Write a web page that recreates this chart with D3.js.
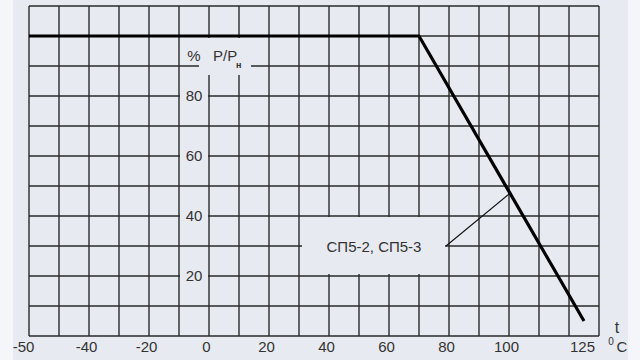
<!DOCTYPE html>
<html>
<head>
<meta charset="utf-8">
<script src="https://cdn.jsdelivr.net/npm/d3@7"></script>
<style>
  body { margin: 0; background: #f5f6f9; }
  svg { display: block; }
</style>
</head>
<body>
<svg width="640" height="360"></svg>
<script>
// data
var tempPoints = [-50, 70, 125];
var powerPoints = [100, 100, 5];
var xTickValues = [-50, -40, -20, 0, 20, 40, 60, 80, 100, 125];
var xGridValues = [-50, -45, -40, -30, -20, -10, 0, 10, 20, 30, 40, 50, 60, 70, 80, 90, 100, 110, 120, 130];
var yTickValues = [20, 40, 60, 80];
var yGridValues = [0, 10, 20, 30, 40, 50, 60, 70, 80, 90, 100, 110];
var seriesLabel = "СП5-2, СП5-3";

var bg = "#e8eaf2";
var svg = d3.select("svg");

// the panel
svg.append("rect")
  .attr("x", 13).attr("y", 0)
  .attr("width", 615).attr("height", 360)
  .attr("fill", bg);

// left end of the axis is squeezed in the drawing (-50 .. -40 takes two cells)
var x = d3.scaleLinear().domain([-50, -40, 130]).range([29, 89, 599]);
var y = d3.scaleLinear().domain([0, 110]).range([336, 6]);

var grid = svg.append("g")
  .attr("stroke", "#2a2a2a")
  .attr("stroke-width", 1.4);

grid.selectAll(".vline")
  .data(xGridValues)
  .enter().append("line")
  .attr("x1", function(d) { return x(d); })
  .attr("x2", function(d) { return x(d); })
  .attr("y1", y(110)).attr("y2", y(0));

grid.selectAll(".hline")
  .data(yGridValues)
  .enter().append("line")
  .attr("x1", x(-50)).attr("x2", x(130))
  .attr("y1", function(d) { return y(d); })
  .attr("y2", function(d) { return y(d); });

// boxes that blank out the grid behind the labels
var boxes = svg.append("g").attr("fill", bg);

boxes.selectAll(".ybox")
  .data(yTickValues)
  .enter().append("rect")
  .attr("x", x(-10) + 1).attr("width", 28)
  .attr("y", function(d) { return y(d) - 11; })
  .attr("height", 22);

// box of the axis title
boxes.append("rect")
  .attr("x", 199).attr("y", 38)
  .attr("width", 52).attr("height", 37);

// box of the series label
boxes.append("rect")
  .attr("x", 302).attr("y", 217)
  .attr("width", 143).attr("height", 57);

// the curve
var line = d3.line()
  .x(function(d) { return x(d[0]); })
  .y(function(d) { return y(d[1]); });

svg.append("path")
  .datum(d3.zip(tempPoints, powerPoints))
  .attr("d", line)
  .attr("fill", "none")
  .attr("stroke", "#000")
  .attr("stroke-width", 3.2);

// leader from label to curve
svg.append("line")
  .attr("x1", 446).attr("y1", 246)
  .attr("x2", x(100) + 2).attr("y2", y(100 - 30 * 95 / 55) + 1)
  .attr("stroke", "#111")
  .attr("stroke-width", 1.1);

// x axis labels
var xAxis = svg.append("g")
  .attr("transform", "translate(0," + 341 + ")")
  .call(d3.axisBottom(x).tickValues(xTickValues).tickSize(0).tickPadding(0)
    .tickFormat(function(d) { return String(d); }));
xAxis.select(".domain").remove();
xAxis.selectAll("text")
  .attr("font-family", "Liberation Sans, Arial, sans-serif")
  .attr("font-size", "15px")
  .attr("fill", "#333")
  .attr("dx", function(d) { return d === -50 ? "-6px" : d === 125 ? "-2px" : "-3px"; });

// y labels sit inside the grid, left of the 0 line
svg.selectAll(".ylab")
  .data(yTickValues)
  .enter().append("text")
  .attr("x", 194)
  .attr("y", function(d) { return y(d) + 5; })
  .attr("text-anchor", "middle")
  .attr("font-family", "Liberation Sans, Arial, sans-serif")
  .attr("font-size", "15px")
  .attr("fill", "#333")
  .text(function(d) { return d; });

var txt = svg.append("g")
  .attr("font-family", "Liberation Sans, Arial, sans-serif")
  .attr("fill", "#333");

txt.append("text").attr("x", 194).attr("y", 61)
  .attr("text-anchor", "middle").attr("font-size", "15px").text("%");
txt.append("text").attr("x", 213).attr("y", 61)
  .attr("font-size", "15px").text("P/P");
txt.append("text").attr("x", 236).attr("y", 68)
  .attr("font-size", "9px").attr("font-weight", "bold").text("н");

txt.append("text").attr("x", 374).attr("y", 252)
  .attr("text-anchor", "middle").attr("font-size", "15px").text(seriesLabel);

txt.append("text").attr("x", 617).attr("y", 333)
  .attr("text-anchor", "middle").attr("font-size", "16px").text("t");
txt.append("text").attr("x", 611).attr("y", 345)
  .attr("text-anchor", "middle").attr("font-size", "10px").text("0");
txt.append("text").attr("x", 622).attr("y", 352)
  .attr("text-anchor", "middle").attr("font-size", "15px").text("C");
</script>
</body>
</html>
